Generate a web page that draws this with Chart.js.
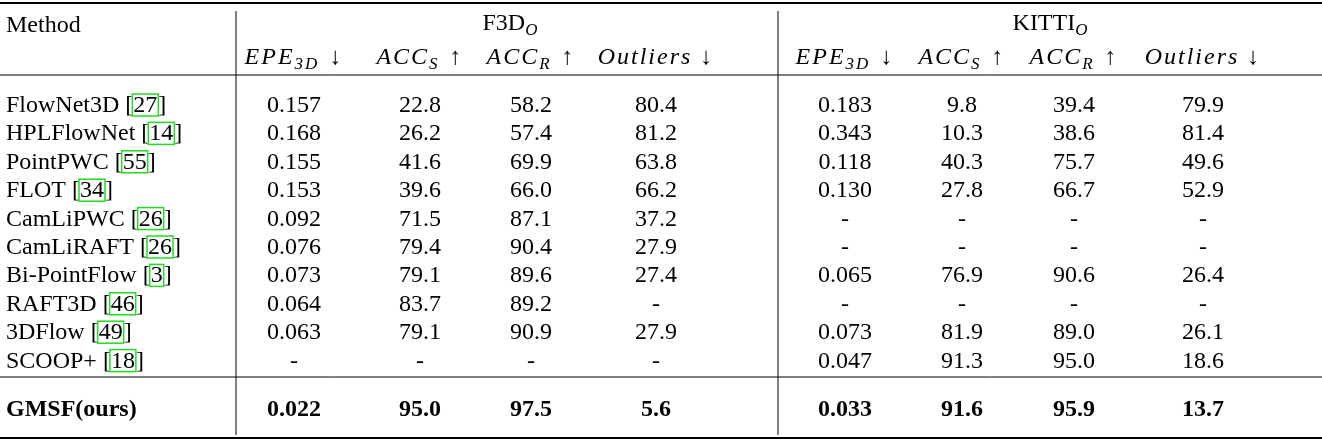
<!DOCTYPE html>
<html><head><meta charset="utf-8">
<script src="https://cdn.jsdelivr.net/npm/chart.js@4"></script>
<style>html,body{margin:0;padding:0;background:#fff}#w{width:1322px;height:443px}</style>
</head><body><div id="w"><canvas id="c"></canvas></div>
<script>
const methods = ['FlowNet3D','HPLFlowNet','PointPWC','FLOT','CamLiPWC','CamLiRAFT','Bi-PointFlow','RAFT3D','3DFlow','SCOOP+'];
const refs = ['27','14','55','34','26','26','3','46','49','18'];
const f3dEPE = ['0.157','0.168','0.155','0.153','0.092','0.076','0.073','0.064','0.063','-'];
const f3dAccS = ['22.8','26.2','41.6','39.6','71.5','79.4','79.1','83.7','79.1','-'];
const f3dAccR = ['58.2','57.4','69.9','66.0','87.1','90.4','89.6','89.2','90.9','-'];
const f3dOut = ['80.4','81.2','63.8','66.2','37.2','27.9','27.4','-','27.9','-'];
const kEPE = ['0.183','0.343','0.118','0.130','-','-','0.065','-','0.073','0.047'];
const kAccS = ['9.8','10.3','40.3','27.8','-','-','76.9','-','81.9','91.3'];
const kAccR = ['39.4','38.6','75.7','66.7','-','-','90.6','-','89.0','95.0'];
const kOut = ['79.9','81.4','49.6','52.9','-','-','26.4','-','26.1','18.6'];
const oursName = 'GMSF(ours)';
const ours = ['0.022','95.0','97.5','5.6','0.033','91.6','95.9','13.7'];

const layout = {colX:[294,420,531,656,845,962,1074,1203], rowY0:104, rowStep:28.4, oursY:408};
const FONT = '"Liberation Serif", serif';

const tablePlugin = {
  id:'table',
  afterDraw(chart){
    const ctx = chart.ctx, xs = chart.scales.x, ys = chart.scales.y;
    const X = v=>xs.getPixelForValue(v), Y = v=>ys.getPixelForValue(v);
    ctx.save();
    ctx.fillStyle = '#000'; ctx.strokeStyle = '#000';
    const hline=(y,w)=>{ctx.lineWidth=w;ctx.beginPath();ctx.moveTo(X(0),Y(y));ctx.lineTo(X(1322),Y(y));ctx.stroke();};
    hline(3,2.2); hline(75,1); hline(377,1); hline(438,2.2);
    const vline=(x)=>{ctx.lineWidth=1;ctx.beginPath();ctx.moveTo(X(x),Y(11));ctx.lineTo(X(x),Y(435));ctx.stroke();};
    vline(236); vline(778);
    ctx.textBaseline='alphabetic';
    const norm = '24px '+FONT, bold='bold 24px '+FONT;
    const itb = 'italic 24px '+FONT, its = 'italic 17px '+FONT;
    ctx.font=norm; ctx.textAlign='left';
    ctx.fillText('Method', X(6), Y(32));
    const grp=(name,cx)=>{
      ctx.font=norm; const w1=ctx.measureText(name).width;
      ctx.font=its; const w2=ctx.measureText('O').width;
      let x=X(cx)-(w1+w2)/2;
      ctx.font=norm; ctx.fillText(name,x,Y(30));
      ctx.font=its; ctx.fillText('O',x+w1,Y(35));
    };
    grp('F3D',510); grp('KITTI',1050);
    const subs=[['EPE','3D','↓'],['ACC','S','↑'],['ACC','R','↑'],['Outliers','','↓']];
    ctx.letterSpacing='2px';
    layout.colX.forEach((cx,i)=>{
      const [m,s,a]=subs[i%4];
      ctx.font=itb; const w1=ctx.measureText(m).width;
      ctx.font=its; const w2=s?ctx.measureText(s).width+2:0;
      ctx.font=norm; const w3=ctx.measureText(' '+a).width;
      let x=X(cx)-(w1+w2+w3)/2;
      ctx.font=itb; ctx.fillText(m,x,Y(64));
      ctx.font=its; if(s) ctx.fillText(s,x+w1,Y(69));
      ctx.font=norm; ctx.fillText(' '+a,x+w1+w2,Y(64));
    });
    ctx.letterSpacing='0px';
    const cols=[f3dEPE,f3dAccS,f3dAccR,f3dOut,kEPE,kAccS,kAccR,kOut];
    methods.forEach((m,r)=>{
      const y=Y(layout.rowY0+r*layout.rowStep+8);
      ctx.font=norm; ctx.textAlign='left';
      let x=X(6);
      const t=m+' ['; ctx.fillText(t,x,y); x+=ctx.measureText(t).width;
      const rw=ctx.measureText(refs[r]).width;
      ctx.fillText(refs[r],x,y);
      ctx.strokeStyle='#22dd22'; ctx.lineWidth=1.5;
      ctx.strokeRect(x-1,y-18,rw+2,22);
      ctx.strokeStyle='#000';
      ctx.fillText(']',x+rw+1,y);
      ctx.textAlign='center';
      cols.forEach((c,i)=>ctx.fillText(c[r],X(layout.colX[i]),y));
    });
    ctx.font=bold; ctx.textAlign='left';
    const yo=Y(layout.oursY+8);
    ctx.fillText(oursName,X(6),yo);
    ctx.textAlign='center';
    ours.forEach((v,i)=>ctx.fillText(v,X(layout.colX[i]),yo));
    ctx.restore();
  }
};

new Chart(document.getElementById('c'),{
  type:'scatter',
  data:{datasets:[{data:[]}]},
  options:{
    responsive:true, maintainAspectRatio:false, animation:false,
    layout:{padding:0},
    plugins:{legend:{display:false},tooltip:{enabled:false}},
    scales:{
      x:{type:'linear',min:0,max:1322,display:false},
      y:{type:'linear',min:0,max:443,reverse:true,display:false}
    }
  },
  plugins:[tablePlugin]
});
</script></body></html>
